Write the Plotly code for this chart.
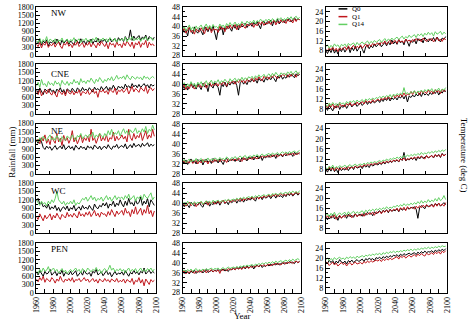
import plotly.graph_objects as go

YEARS = list(range(1960, 2100, 2))
SERIES = ["Q0", "Q1", "Q14"]
REGIONS = ["NW", "CNE", "NE", "WC", "PEN"]

# ---------------- Rainfall (mm) ----------------
nw_rain_q0 = [520, 430, 600, 380, 540, 460, 580, 350, 500, 470,
              560, 420, 610, 480, 390, 570, 450, 520, 600, 410,
              540, 470, 380, 590, 500, 440, 620, 480, 530, 400,
              570, 490, 610, 430, 550, 500, 640, 460, 580, 520,
              610, 470, 560, 650, 500, 590, 620, 480, 660, 560,
              640, 520, 700, 580, 620, 950, 560, 720, 600, 680,
              740, 560, 690, 620, 760, 540, 700, 650, 600, 680]
nw_rain_q1 = [420, 330, 480, 280, 450, 380, 520, 300, 410, 360,
              470, 310, 430, 500, 350, 260, 440, 390, 510, 340,
              420, 290, 460, 380, 520, 330, 410, 470, 300, 440,
              380, 500, 320, 450, 400, 280, 470, 360, 520, 410,
              330, 460, 250, 480, 390, 440, 300, 510, 370, 420,
              290, 480, 360, 540, 410, 330, 500, 260, 470, 390,
              520, 300, 460, 400, 560, 280, 490, 380, 430, 350]
nw_rain_q14 = [560, 480, 640, 450, 590, 520, 700, 470, 610, 540,
               500, 620, 460, 580, 530, 650, 490, 560, 610, 470,
               590, 540, 660, 500, 570, 620, 480, 600, 550, 640,
               520, 590, 470, 630, 560, 680, 510, 600, 570, 650,
               540, 620, 500, 660, 580, 530, 640, 490, 600, 560,
               620, 550, 680, 500, 640, 590, 700, 540, 630, 580,
               660, 520, 640, 590, 700, 550, 620, 680, 560, 610]

cne_rain_q0 = [880, 760, 940, 820, 700, 900, 850, 780, 920, 810,
               860, 740, 900, 830, 950, 790, 880, 720, 910, 850,
               800, 930, 860, 770, 940, 880, 820, 960, 850, 900,
               830, 950, 880, 790, 970, 870, 920, 840, 990, 880,
               910, 1000, 850, 960, 890, 1040, 920, 870, 1010, 940,
               990, 900, 1080, 960, 1020, 930, 1100, 980, 1050, 950,
               1070, 960, 1030, 1100, 990, 1060, 940, 1080, 1010, 1050]
cne_rain_q1 = [820, 700, 880, 650, 790, 850, 720, 900, 760, 680,
               830, 740, 610, 860, 780, 700, 820, 650, 880, 760,
               720, 840, 690, 800, 750, 870, 660, 810, 780, 730,
               850, 700, 780, 900, 740, 820, 600, 860, 790, 880,
               760, 840, 710, 900, 820, 780, 940, 700, 860, 810,
               900, 780, 850, 950, 720, 880, 1000, 800, 920, 860,
               780, 960, 880, 820, 1000, 740, 900, 950, 840, 920]
cne_rain_q14 = [1000, 1150, 960, 1250, 1050, 1100, 980, 1180, 1060, 1120,
                1020, 1200, 1080, 1140, 990, 1220, 1100, 1060, 1180, 1030,
                1150, 1080, 1250, 1120, 1190, 1050, 1280, 1140, 1200, 1100,
                1230, 1150, 1300, 1180, 1100, 1260, 1170, 1320, 1210, 1130,
                1250, 1180, 1300, 1220, 1350, 1200, 1280, 1400, 1260, 1330,
                1290, 1380, 1250, 1420, 1310, 1240, 1370, 1300, 1260, 1350,
                1280, 1330, 1230, 1380, 1290, 1340, 1250, 1310, 1360, 1300]

ne_rain_q0 = [1200, 1100, 1280, 1150, 950, 880, 1000, 920, 980, 850,
              940, 1020, 880, 960, 1000, 900, 1050, 870, 950, 1010,
              900, 980, 850, 1030, 940, 890, 1000, 920, 960, 860,
              1010, 930, 980, 880, 1040, 950, 900, 1000, 870, 960,
              990, 910, 1050, 940, 880, 1000, 960, 1060, 920, 980,
              1020, 950, 1080, 900, 1000, 1050, 940, 1100, 980, 1030,
              1060, 960, 1100, 1000, 1040, 1120, 980, 1070, 1010, 1050]
ne_rain_q1 = [1150, 1250, 1080, 1300, 1180, 1400, 1100, 1250, 1050, 1350,
              1200, 1100, 1450, 1150, 1280, 1020, 1380, 1180, 1300, 1100,
              1250, 1550, 1150, 1300, 1080, 1250, 1400, 1120, 1300, 1200,
              1350, 1150, 1600, 1200, 1300, 1100, 1280, 1450, 1180, 1320,
              1200, 1400, 1150, 1300, 1250, 1500, 1180, 1350, 1220, 1280,
              1400, 1250, 1350, 1150, 1600, 1300, 1200, 1450, 1250, 1380,
              1300, 1500, 1200, 1350, 1550, 1250, 1400, 1300, 1600, 1350]
ne_rain_q14 = [1250, 1150, 1300, 1200, 1350, 1250, 1180, 1320, 1400, 1220,
               1300, 1200, 1380, 1260, 1150, 1340, 1280, 1200, 1360, 1300,
               1250, 1400, 1300, 1200, 1380, 1320, 1450, 1260, 1350, 1400,
               1300, 1420, 1350, 1500, 1280, 1400, 1330, 1460, 1380, 1300,
               1450, 1350, 1550, 1400, 1600, 1380, 1480, 1420, 1550, 1360,
               1500, 1620, 1450, 1550, 1400, 1580, 1480, 1520, 1650, 1450,
               1550, 1480, 1620, 1500, 1700, 1450, 1600, 1530, 1750, 1580]

wc_rain_q0 = [1150, 1250, 1050, 1100, 950, 1000, 900, 1050, 850, 950,
              880, 1000, 820, 930, 780, 900, 950, 850, 980, 800,
              920, 860, 1000, 800, 900, 950, 830, 1000, 880, 940,
              860, 1000, 900, 820, 1050, 930, 880, 1000, 950, 1080,
              980, 1100, 900, 1050, 1000, 1150, 950, 1080, 1000, 1200,
              1050, 950, 1150, 1000, 1250, 1050, 1100, 980, 1200, 1050,
              1100, 1300, 1000, 1150, 1050, 1250, 950, 1200, 1100, 1000]
wc_rain_q1 = [600, 500, 700, 550, 450, 650, 520, 600, 700, 480,
              650, 550, 720, 600, 500, 680, 620, 550, 750, 600,
              680, 580, 720, 650, 550, 780, 620, 700, 600, 750,
              650, 780, 600, 700, 820, 620, 720, 580, 760, 680,
              700, 600, 780, 650, 850, 720, 600, 800, 680, 740,
              820, 650, 900, 720, 780, 600, 850, 700, 950, 680,
              780, 900, 650, 850, 720, 1000, 700, 820, 600, 800]
wc_rain_q14 = [1200, 1100, 1000, 1150, 1050, 1100, 980, 1150, 1050, 1200,
               1100, 1250, 1500, 1200, 1100, 1050, 1150, 1000, 1100, 1050,
               1150, 1050, 1200, 1000, 1100, 1050, 1150, 1250, 1200, 1300,
               1150, 1250, 1350, 1200, 1300, 1150, 1250, 1200, 1300, 1150,
               1250, 1350, 1200, 1300, 1150, 1250, 1350, 1200, 1300, 1250,
               1300, 1200, 1350, 1250, 1400, 1200, 1300, 1350, 1150, 1300,
               1250, 1350, 1200, 1400, 1300, 1250, 1350, 1450, 1200, 1300]

pen_rain_q0 = [750, 650, 800, 700, 600, 780, 680, 720, 850, 640,
               700, 780, 620, 750, 680, 820, 600, 740, 700, 660,
               780, 650, 720, 800, 600, 700, 760, 640, 820, 700,
               680, 740, 600, 780, 720, 850, 650, 700, 760, 620,
               720, 800, 660, 740, 580, 700, 780, 650, 720, 680,
               760, 640, 800, 700, 600, 740, 680, 820, 700, 760,
               650, 780, 720, 900, 680, 750, 820, 700, 780, 720]
pen_rain_q1 = [500, 400, 550, 450, 600, 380, 520, 460, 400, 550,
               480, 350, 500, 420, 600, 450, 380, 500, 430, 520,
               420, 550, 380, 480, 450, 520, 400, 470, 550, 430,
               500, 380, 460, 520, 400, 480, 350, 500, 440, 400,
               520, 420, 480, 380, 500, 450, 400, 520, 380, 450,
               400, 500, 350, 480, 420, 380, 520, 300, 450, 400,
               550, 350, 480, 250, 500, 420, 300, 480, 400, 450]
pen_rain_q14 = [800, 700, 850, 750, 900, 780, 820, 950, 760, 850,
                900, 780, 850, 720, 800, 880, 750, 820, 700, 780,
                850, 760, 820, 900, 780, 850, 720, 880, 800, 760,
                900, 820, 760, 850, 800, 920, 780, 850, 700, 820,
                880, 780, 850, 1000, 820, 900, 760, 850, 800, 880,
                780, 850, 720, 820, 900, 760, 850, 800, 880, 740,
                820, 900, 780, 850, 760, 880, 820, 900, 780, 860]

# ---------------- Temperature, middle column (deg C) ----------------
nw_tx_q0 = [39.0, 37.5, 38.8, 36.0, 39.5, 38.2, 37.0, 39.8, 38.0, 37.2,
            39.2, 38.0, 36.5, 40.0, 38.6, 37.8, 39.5, 38.2, 40.2, 37.5,
            34.5, 39.0, 38.4, 40.2, 36.5, 39.6, 38.8, 40.4, 39.2, 38.0,
            40.5, 39.2, 40.8, 38.5, 41.0, 39.8, 40.2, 41.4, 39.5, 40.8,
            41.2, 40.0, 41.6, 40.6, 42.0, 40.8, 39.0, 41.8, 42.2, 40.6,
            42.0, 41.2, 42.6, 40.2, 42.4, 41.6, 43.0, 41.0, 42.2, 42.8,
            41.5, 43.0, 42.2, 43.4, 41.8, 42.8, 43.6, 42.4, 43.2, 42.8]
nw_tx_q1 = [38.0, 39.2, 37.2, 38.6, 39.8, 37.6, 38.4, 36.8, 39.0, 38.2,
            37.8, 39.4, 38.0, 37.0, 39.6, 38.4, 40.0, 37.4, 39.0, 38.6,
            38.8, 37.5, 40.2, 38.8, 39.4, 37.8, 40.2, 39.0, 40.6, 39.2,
            39.8, 40.8, 38.6, 40.4, 39.4, 41.2, 40.0, 39.2, 41.0, 40.2,
            40.6, 41.4, 39.6, 41.0, 40.2, 41.8, 40.8, 42.0, 40.4, 41.4,
            41.0, 42.2, 40.8, 41.8, 42.6, 40.6, 42.0, 41.4, 42.8, 41.6,
            42.4, 41.2, 43.0, 42.0, 42.6, 41.4, 43.2, 42.0, 43.4, 42.6]
nw_tx_q14 = [38.8, 40.0, 38.2, 39.4, 40.6, 38.6, 39.8, 38.0, 40.2, 39.0,
             39.6, 40.6, 38.8, 39.8, 41.0, 39.2, 40.4, 39.0, 40.8, 39.6,
             40.0, 39.2, 41.0, 39.8, 40.6, 39.4, 41.2, 40.2, 41.6, 40.4,
             40.8, 41.8, 40.2, 41.2, 40.4, 42.0, 41.0, 40.6, 42.2, 41.4,
             42.0, 41.4, 42.6, 41.0, 42.4, 41.8, 43.0, 42.2, 41.6, 42.8,
             42.4, 43.0, 41.8, 43.2, 42.6, 42.0, 43.4, 42.8, 43.6, 42.2,
             43.2, 42.6, 43.8, 43.0, 44.0, 42.8, 43.6, 44.2, 43.0, 43.8]

cne_tx_q0 = [39.6, 38.2, 40.0, 37.6, 39.2, 40.4, 38.6, 39.8, 38.0, 40.2,
             39.0, 37.8, 40.4, 38.8, 39.6, 37.0, 40.2, 39.2, 38.4, 40.6,
             39.4, 38.6, 35.5, 40.2, 39.0, 40.8, 38.8, 40.4, 39.6, 41.0,
             40.0, 41.2, 39.4, 35.5, 40.6, 41.4, 40.0, 41.0, 39.8, 41.6,
             40.8, 42.0, 41.0, 41.8, 40.4, 42.4, 41.4, 42.0, 40.8, 42.6,
             41.6, 42.8, 41.8, 43.0, 42.2, 41.0, 43.2, 42.4, 43.6, 42.0,
             43.0, 42.4, 43.8, 42.8, 44.0, 43.2, 42.6, 44.2, 43.4, 44.0]
cne_tx_q1 = [38.6, 39.8, 37.8, 39.2, 38.2, 40.0, 39.0, 38.0, 39.6, 38.8,
             40.0, 38.6, 39.4, 40.6, 38.4, 39.8, 40.8, 39.0, 40.2, 39.4,
             40.4, 39.2, 40.8, 39.6, 41.0, 40.0, 39.2, 41.2, 40.2, 40.8,
             41.2, 40.0, 41.4, 40.6, 42.0, 40.8, 41.6, 40.4, 42.2, 41.0,
             41.8, 42.4, 41.0, 42.6, 41.6, 43.0, 42.0, 41.4, 43.2, 42.4,
             43.0, 42.0, 43.4, 42.6, 43.8, 42.8, 42.2, 43.6, 43.0, 44.0,
             43.4, 44.2, 42.8, 44.0, 43.2, 44.4, 43.6, 42.8, 44.6, 43.8]
cne_tx_q14 = [39.4, 40.6, 38.8, 40.2, 39.0, 41.0, 39.6, 40.4, 38.6, 40.8,
              39.8, 41.0, 39.2, 40.6, 41.4, 39.6, 40.8, 41.6, 40.0, 41.2,
              40.6, 41.8, 40.2, 41.4, 40.8, 42.0, 41.0, 40.4, 42.2, 41.2,
              41.8, 42.4, 41.0, 42.2, 41.4, 42.8, 41.6, 42.6, 41.8, 43.0,
              42.4, 43.2, 42.0, 43.4, 42.6, 43.8, 42.8, 43.2, 44.0, 42.8,
              43.6, 44.2, 43.0, 44.4, 43.4, 44.8, 43.8, 43.2, 44.6, 44.0,
              44.4, 43.6, 45.0, 44.2, 45.2, 43.8, 44.8, 45.4, 44.0, 45.0]

ne_tx_q0 = [33.2, 32.2, 33.6, 31.8, 33.0, 34.0, 32.4, 33.4, 32.0, 33.8,
            32.8, 33.6, 31.6, 33.2, 34.0, 32.6, 33.4, 32.2, 34.2, 33.0,
            33.6, 32.4, 34.0, 33.0, 31.8, 33.8, 34.2, 32.8, 34.0, 33.4,
            34.2, 33.0, 34.4, 33.6, 32.8, 34.6, 33.8, 34.2, 33.2, 34.8,
            34.0, 35.0, 33.6, 34.6, 35.2, 34.0, 35.4, 33.4, 35.0, 34.4,
            35.4, 34.6, 35.8, 34.8, 35.6, 34.2, 36.0, 35.2, 35.8, 34.8,
            36.0, 35.2, 36.4, 35.6, 36.2, 35.0, 36.6, 35.8, 36.4, 36.0]
ne_tx_q1 = [32.6, 33.4, 32.0, 33.0, 32.4, 33.6, 32.2, 32.8, 33.4, 32.0,
            33.2, 32.4, 33.8, 32.8, 33.2, 32.0, 33.6, 33.0, 32.6, 33.8,
            33.0, 33.8, 32.8, 34.0, 33.2, 33.6, 32.6, 34.2, 33.4, 33.8,
            33.4, 34.0, 33.2, 34.4, 33.8, 33.0, 34.6, 33.6, 34.2, 33.8,
            34.6, 33.8, 34.8, 34.2, 34.0, 35.0, 34.4, 35.2, 34.6, 35.0,
            34.8, 35.4, 34.6, 35.6, 35.0, 35.8, 34.8, 35.4, 36.0, 35.2,
            35.6, 36.2, 35.4, 36.0, 35.8, 36.4, 35.4, 36.2, 35.8, 36.6]
ne_tx_q14 = [33.0, 33.8, 32.6, 33.4, 34.0, 32.8, 33.6, 33.2, 34.2, 33.0,
             33.6, 34.2, 32.8, 33.8, 33.4, 34.4, 33.2, 34.0, 33.6, 34.4,
             34.0, 33.4, 34.6, 33.8, 34.2, 33.6, 34.8, 34.0, 33.6, 34.6,
             34.2, 35.0, 34.0, 34.6, 35.2, 34.4, 34.8, 35.4, 34.2, 35.0,
             35.2, 34.6, 35.6, 35.0, 35.8, 34.8, 35.4, 36.0, 35.2, 35.6,
             35.8, 36.2, 35.4, 36.4, 35.8, 36.0, 36.6, 35.6, 36.4, 36.8,
             36.2, 36.8, 36.0, 37.0, 36.4, 36.8, 37.2, 36.4, 37.0, 37.4]

wc_tx_q0 = [39.8, 38.6, 40.2, 39.0, 38.2, 40.4, 39.4, 38.8, 40.0, 39.2,
            40.4, 39.0, 38.4, 40.2, 39.6, 40.6, 38.8, 40.0, 39.4, 40.8,
            39.6, 40.8, 39.2, 40.4, 41.0, 39.8, 40.6, 39.4, 41.2, 40.2,
            40.8, 41.4, 40.0, 41.2, 40.6, 41.8, 40.4, 41.6, 41.0, 42.0,
            41.2, 42.2, 41.6, 40.8, 42.4, 41.8, 42.6, 41.4, 42.8, 42.0,
            42.4, 43.0, 41.8, 42.8, 43.2, 42.0, 43.4, 42.6, 43.0, 42.2,
            43.4, 42.6, 43.8, 43.0, 44.0, 42.8, 43.6, 44.2, 43.2, 43.8]
wc_tx_q1 = [39.2, 40.0, 38.8, 39.6, 40.4, 39.0, 39.8, 40.2, 38.6, 39.6,
            39.8, 40.6, 39.4, 40.0, 40.8, 39.2, 40.4, 39.8, 40.6, 39.6,
            40.2, 40.8, 39.8, 40.6, 41.2, 40.0, 40.8, 41.4, 40.4, 41.0,
            41.2, 40.6, 41.6, 41.0, 42.0, 40.8, 41.8, 41.2, 42.2, 41.4,
            41.8, 42.4, 41.4, 42.2, 42.8, 41.6, 42.6, 42.0, 43.0, 42.2,
            42.8, 43.2, 42.4, 43.4, 42.8, 43.6, 42.6, 43.2, 43.8, 43.0,
            43.6, 43.0, 44.0, 43.4, 44.2, 43.2, 43.8, 44.4, 43.6, 44.0]
wc_tx_q14 = [39.6, 40.4, 39.2, 40.8, 39.8, 40.2, 39.4, 40.6, 39.8, 40.4,
             40.0, 40.8, 39.6, 40.4, 41.0, 40.2, 40.8, 39.8, 41.2, 40.4,
             40.8, 41.2, 40.4, 41.0, 40.6, 41.4, 40.8, 41.6, 41.0, 41.4,
             41.6, 41.0, 42.0, 41.4, 42.2, 41.6, 42.4, 41.8, 42.2, 42.6,
             42.2, 42.8, 42.0, 43.0, 42.4, 43.2, 42.6, 43.0, 43.4, 42.8,
             43.2, 43.6, 42.8, 43.8, 43.4, 44.0, 43.2, 43.8, 44.2, 43.6,
             44.0, 44.4, 43.6, 44.6, 44.0, 44.8, 44.2, 44.6, 44.0, 45.0]

pen_tx_q0 = [36.6, 35.8, 37.0, 36.2, 35.6, 36.8, 36.0, 37.2, 35.8, 36.6,
             36.4, 37.0, 36.0, 36.8, 37.4, 36.2, 36.8, 37.0, 36.4, 37.2,
             36.8, 37.4, 36.6, 37.0, 37.6, 36.8, 37.2, 36.6, 37.8, 37.2,
             38.0, 37.4, 38.2, 37.6, 38.4, 37.8, 38.6, 37.6, 38.8, 38.0,
             38.4, 39.0, 37.6, 38.8, 39.2, 38.4, 39.4, 38.2, 39.0, 38.6,
             39.4, 38.8, 39.6, 39.0, 39.8, 39.2, 40.0, 39.2, 39.8, 40.2,
             39.6, 40.2, 39.8, 40.6, 40.0, 40.4, 39.8, 40.8, 40.2, 40.6]
pen_tx_q1 = [36.2, 36.8, 35.6, 36.6, 36.0, 37.0, 36.4, 35.8, 36.8, 36.2,
             37.0, 36.2, 36.8, 37.2, 36.0, 37.0, 36.6, 37.4, 36.4, 37.0,
             36.6, 37.2, 35.8, 37.4, 37.0, 37.6, 36.8, 37.8, 37.2, 37.6,
             37.8, 37.2, 38.2, 37.6, 38.0, 37.4, 38.4, 38.0, 38.6, 37.8,
             38.6, 38.2, 38.8, 38.4, 39.0, 38.6, 39.2, 38.8, 39.4, 38.8,
             39.2, 39.6, 38.8, 39.6, 39.2, 40.0, 39.4, 39.8, 39.2, 40.0,
             40.2, 39.6, 40.4, 40.0, 40.6, 39.8, 40.4, 40.8, 40.2, 40.6]
pen_tx_q14 = [36.8, 37.2, 36.4, 37.4, 36.8, 37.6, 36.6, 37.2, 37.8, 36.8,
              37.4, 36.8, 37.6, 37.0, 37.8, 37.2, 37.6, 38.0, 37.2, 37.8,
              37.6, 38.0, 37.2, 37.8, 38.2, 37.4, 38.0, 38.4, 37.8, 38.2,
              38.4, 38.0, 38.6, 38.2, 38.8, 38.4, 39.0, 38.6, 39.2, 38.8,
              39.0, 39.4, 38.8, 39.6, 39.2, 39.8, 39.4, 40.0, 39.6, 40.2,
              39.8, 40.4, 39.8, 40.6, 40.0, 40.8, 40.2, 40.6, 41.0, 40.4,
              40.8, 41.2, 40.6, 41.4, 40.8, 41.6, 41.0, 41.4, 41.8, 41.2]

# ---------------- Temperature, right column (deg C) ----------------
nw_tn_q0 = [8.0, 6.8, 8.6, 7.2, 9.0, 7.0, 8.4, 6.6, 8.8, 7.6,
            9.2, 7.4, 8.6, 9.6, 7.2, 9.4, 8.0, 9.8, 7.8, 9.0,
            10.0, 8.6, 7.0, 9.6, 10.4, 8.8, 10.0, 9.2, 10.8, 9.6,
            10.2, 11.2, 9.6, 10.8, 11.4, 10.0, 11.6, 10.4, 12.4, 10.8,
            11.8, 10.6, 12.6, 11.2, 12.0, 10.4, 12.8, 11.6, 9.8, 12.2,
            11.4, 12.6, 10.8, 13.0, 12.0, 12.8, 11.2, 13.4, 12.2, 11.6,
            13.0, 12.0, 13.4, 11.8, 13.6, 12.4, 11.6, 13.2, 12.6, 13.8]
nw_tn_q1 = [8.6, 7.8, 9.2, 8.2, 9.6, 8.0, 9.0, 7.6, 9.4, 8.4,
            8.8, 9.6, 8.2, 10.0, 8.6, 9.4, 10.2, 8.8, 9.8, 9.2,
            10.4, 9.0, 10.0, 10.8, 9.4, 10.6, 9.8, 11.0, 10.2, 10.8,
            11.2, 10.2, 11.6, 10.8, 12.0, 10.6, 11.4, 12.4, 10.8, 11.8,
            12.2, 11.0, 12.6, 11.6, 12.0, 11.2, 12.8, 11.8, 12.4, 11.4,
            12.6, 11.8, 13.0, 12.2, 12.8, 11.6, 13.2, 12.4, 11.8, 12.8,
            12.2, 13.0, 11.6, 12.6, 13.4, 12.0, 12.8, 11.8, 13.2, 12.4]
nw_tn_q14 = [9.6, 10.4, 9.0, 10.2, 9.4, 10.8, 9.8, 10.4, 9.2, 10.6,
             10.0, 10.8, 9.6, 11.0, 10.2, 10.6, 11.2, 10.0, 11.4, 10.4,
             11.0, 11.6, 10.6, 11.4, 12.0, 10.8, 11.8, 11.2, 12.2, 11.4,
             12.0, 12.6, 11.4, 12.4, 13.0, 11.8, 12.8, 12.2, 13.2, 12.4,
             13.0, 13.6, 12.6, 13.4, 14.0, 12.8, 13.8, 13.2, 14.4, 13.4,
             14.0, 14.6, 13.4, 14.8, 14.2, 15.0, 13.8, 15.2, 14.4, 15.6,
             14.6, 15.4, 14.0, 15.8, 14.8, 15.2, 16.0, 14.6, 15.6, 15.0]

cne_tn_q0 = [8.6, 7.4, 9.4, 8.0, 7.2, 9.0, 8.4, 10.0, 7.8, 9.2,
             8.6, 9.8, 8.2, 9.4, 10.2, 8.8, 9.6, 10.4, 9.0, 10.0,
             10.6, 9.4, 10.2, 11.0, 9.8, 10.8, 10.2, 11.2, 10.4, 11.0,
             11.6, 10.6, 11.8, 11.0, 12.2, 11.4, 12.6, 11.2, 12.4, 11.8,
             12.8, 11.6, 13.0, 12.4, 13.4, 12.0, 13.6, 10.8, 13.2, 12.6,
             13.6, 12.8, 14.0, 13.2, 14.4, 13.0, 14.6, 13.6, 14.2, 13.4,
             14.6, 13.8, 15.0, 14.2, 15.4, 13.6, 15.0, 14.4, 15.6, 14.8]
cne_tn_q1 = [9.2, 8.4, 9.8, 8.8, 10.0, 8.2, 9.4, 8.6, 10.2, 9.0,
             9.6, 8.8, 10.2, 9.4, 10.6, 9.2, 10.0, 9.6, 10.8, 9.8,
             10.2, 11.0, 10.0, 11.4, 10.6, 11.2, 10.4, 11.8, 10.8, 11.4,
             12.0, 11.2, 12.4, 11.6, 12.8, 11.8, 13.2, 12.0, 12.6, 13.4,
             12.4, 13.6, 12.8, 14.0, 13.0, 14.4, 13.2, 14.0, 13.6, 15.0,
             13.8, 15.2, 14.2, 14.8, 13.6, 15.4, 14.4, 15.0, 14.2, 15.6,
             14.6, 15.2, 14.0, 15.8, 14.8, 15.4, 14.2, 16.0, 15.0, 15.6]
cne_tn_q14 = [9.8, 9.0, 10.4, 9.4, 10.6, 9.6, 10.2, 9.2, 10.8, 10.0,
              10.4, 9.8, 11.0, 10.2, 11.2, 10.6, 11.4, 10.4, 11.6, 10.8,
              11.2, 11.8, 10.8, 12.0, 11.4, 12.2, 11.6, 12.4, 11.8, 12.6,
              12.2, 13.0, 12.4, 13.2, 12.6, 13.4, 12.8, 13.8, 12.6, 14.0,
              13.2, 14.2, 13.6, 14.4, 13.8, 16.6, 14.0, 14.6, 13.8, 15.0,
              14.4, 15.4, 14.0, 15.2, 14.8, 15.6, 14.6, 15.8, 15.0, 16.0,
              15.2, 16.2, 14.8, 15.8, 15.4, 16.4, 15.0, 16.0, 15.6, 16.6]

ne_tn_q0 = [7.8, 6.8, 8.4, 7.2, 8.8, 7.0, 8.0, 6.6, 8.6, 7.4,
            8.2, 7.6, 8.8, 7.4, 8.6, 9.0, 7.8, 9.2, 8.4, 8.8,
            9.0, 8.2, 9.6, 8.8, 9.4, 8.6, 10.0, 9.2, 9.8, 10.2,
            9.6, 10.4, 9.8, 10.8, 10.0, 11.0, 10.4, 11.2, 10.6, 11.4,
            11.0, 11.6, 10.8, 12.2, 11.4, 14.6, 11.2, 12.0, 11.6, 12.4,
            11.8, 12.6, 11.4, 12.8, 12.0, 13.0, 12.2, 12.6, 13.2, 12.4,
            12.8, 13.4, 12.4, 13.6, 13.0, 13.8, 12.6, 14.2, 13.2, 14.0]
ne_tn_q1 = [8.2, 7.6, 8.8, 7.8, 8.4, 7.4, 8.6, 8.0, 7.6, 8.8,
            8.0, 8.6, 7.8, 9.0, 8.2, 8.8, 8.4, 9.2, 8.6, 9.0,
            9.4, 8.8, 9.8, 9.2, 10.0, 9.4, 10.2, 9.6, 10.4, 9.8,
            10.2, 10.8, 10.0, 11.0, 10.4, 11.2, 10.6, 11.4, 10.8, 11.6,
            11.2, 11.8, 11.0, 12.0, 11.6, 12.4, 11.4, 12.2, 11.8, 12.6,
            12.0, 12.8, 12.2, 13.0, 12.4, 13.2, 12.6, 12.0, 13.4, 12.6,
            12.8, 13.4, 12.6, 13.8, 13.0, 13.6, 12.8, 14.0, 13.2, 13.8]
ne_tn_q14 = [8.6, 8.0, 9.2, 8.4, 9.6, 8.2, 9.0, 8.6, 9.4, 8.8,
             9.0, 9.6, 8.8, 9.4, 9.8, 9.0, 9.6, 10.0, 9.2, 9.8,
             10.0, 9.6, 10.4, 9.8, 10.6, 10.2, 10.8, 10.4, 11.0, 10.6,
             11.0, 11.4, 10.8, 11.6, 11.2, 12.0, 11.4, 12.2, 11.8, 12.4,
             12.0, 12.8, 12.2, 13.0, 12.4, 13.4, 12.8, 13.6, 13.0, 13.8,
             13.2, 14.0, 13.4, 14.2, 13.6, 14.6, 13.8, 14.4, 14.0, 14.8,
             14.2, 15.0, 14.4, 15.2, 14.6, 15.4, 14.8, 15.6, 15.0, 15.8]

wc_tn_q0 = [12.6, 11.4, 13.2, 12.0, 13.6, 11.8, 12.8, 11.2, 13.0, 12.2,
            12.8, 13.4, 12.0, 13.6, 12.6, 13.2, 12.4, 13.8, 12.8, 13.4,
            13.6, 12.8, 14.0, 13.2, 14.4, 13.6, 14.2, 13.0, 14.6, 13.8,
            14.4, 15.0, 14.0, 15.2, 14.6, 15.4, 14.2, 15.6, 14.8, 15.2,
            15.0, 15.8, 14.6, 16.0, 15.2, 15.8, 15.4, 16.2, 15.6, 16.4,
            16.0, 16.6, 15.6, 12.0, 16.2, 17.0, 16.4, 15.8, 17.2, 16.6,
            17.0, 17.6, 16.6, 17.8, 17.2, 18.0, 16.8, 17.6, 18.2, 17.4]
wc_tn_q1 = [12.2, 13.0, 11.8, 12.8, 12.4, 13.4, 11.6, 12.6, 13.2, 12.0,
            13.0, 12.4, 13.4, 12.8, 13.6, 12.2, 13.2, 13.8, 12.6, 13.4,
            13.0, 13.8, 12.8, 14.0, 13.4, 14.2, 13.6, 14.4, 13.2, 14.6,
            14.0, 14.8, 13.8, 15.0, 14.4, 15.2, 14.6, 15.4, 14.8, 15.6,
            15.2, 16.0, 14.8, 16.2, 15.4, 16.4, 15.0, 16.6, 15.8, 16.2,
            16.4, 15.6, 16.8, 16.0, 17.0, 16.2, 17.2, 16.4, 17.4, 16.8,
            16.6, 17.4, 16.4, 17.8, 16.8, 18.0, 17.0, 17.6, 16.8, 18.2]
wc_tn_q14 = [13.0, 13.8, 12.6, 14.0, 13.2, 14.4, 12.8, 13.6, 14.2, 13.4,
             13.8, 14.4, 13.2, 14.6, 13.6, 14.2, 14.8, 13.8, 14.6, 14.0,
             14.4, 15.0, 14.0, 15.2, 14.6, 15.4, 14.8, 15.6, 15.0, 15.8,
             15.2, 16.0, 15.4, 16.2, 15.6, 16.6, 15.8, 16.4, 16.0, 16.8,
             16.4, 17.2, 16.6, 17.4, 16.8, 17.8, 17.0, 17.6, 17.2, 18.0,
             17.4, 18.2, 17.6, 18.6, 17.8, 19.0, 18.0, 18.8, 18.2, 19.4,
             18.4, 19.2, 18.6, 19.8, 18.8, 20.2, 19.0, 19.6, 21.0, 19.4]

pen_tn_q0 = [18.6, 17.8, 19.2, 18.2, 19.0, 17.6, 18.8, 18.0, 19.4, 18.4,
             18.0, 18.8, 17.6, 19.0, 18.4, 19.2, 18.2, 18.8, 19.4, 18.6,
             19.0, 19.6, 18.6, 19.8, 19.2, 20.0, 19.4, 19.8, 19.0, 20.2,
             19.8, 20.4, 19.6, 20.6, 20.0, 20.8, 20.2, 21.0, 20.4, 21.2,
             20.8, 21.4, 20.6, 21.6, 21.0, 21.8, 21.2, 21.6, 22.0, 21.4,
             21.8, 22.2, 21.4, 22.4, 21.8, 22.6, 22.0, 22.8, 22.2, 22.6,
             22.4, 23.0, 22.2, 23.2, 22.6, 23.4, 22.8, 23.6, 23.0, 23.8]
pen_tn_q1 = [17.6, 18.2, 17.0, 17.8, 18.4, 17.2, 18.0, 16.8, 17.6, 18.2,
             17.4, 18.0, 16.8, 17.8, 18.2, 17.2, 17.8, 18.4, 17.6, 18.0,
             18.2, 17.6, 18.6, 18.0, 18.8, 18.2, 19.0, 18.4, 18.8, 19.2,
             18.8, 19.4, 18.6, 19.6, 19.0, 19.8, 19.2, 20.0, 19.4, 19.8,
             20.0, 20.6, 19.6, 20.8, 20.2, 21.0, 20.0, 20.8, 21.2, 20.4,
             20.8, 21.4, 20.6, 21.6, 21.0, 21.8, 21.2, 20.8, 22.0, 21.4,
             21.6, 22.2, 21.4, 22.4, 21.8, 22.6, 21.6, 22.8, 22.2, 23.0]
pen_tn_q14 = [19.4, 20.0, 19.0, 19.8, 19.2, 20.2, 19.4, 19.8, 20.4, 19.6,
              20.0, 19.4, 20.4, 19.8, 20.6, 20.0, 20.4, 19.8, 20.8, 20.2,
              20.6, 21.0, 20.4, 21.2, 20.8, 21.4, 21.0, 21.6, 21.2, 21.8,
              21.4, 22.0, 21.2, 22.2, 21.6, 22.4, 21.8, 22.6, 22.2, 22.8,
              22.2, 22.8, 22.4, 23.0, 22.6, 23.2, 22.8, 23.4, 23.0, 23.6,
              23.0, 23.6, 23.2, 23.8, 23.4, 24.0, 23.6, 24.2, 23.8, 24.4,
              23.8, 24.4, 24.0, 24.6, 24.2, 24.8, 24.4, 25.0, 24.6, 24.8]

RAIN = {"NW": (nw_rain_q0, nw_rain_q1, nw_rain_q14),
        "CNE": (cne_rain_q0, cne_rain_q1, cne_rain_q14),
        "NE": (ne_rain_q0, ne_rain_q1, ne_rain_q14),
        "WC": (wc_rain_q0, wc_rain_q1, wc_rain_q14),
        "PEN": (pen_rain_q0, pen_rain_q1, pen_rain_q14)}
TX = {"NW": (nw_tx_q0, nw_tx_q1, nw_tx_q14),
      "CNE": (cne_tx_q0, cne_tx_q1, cne_tx_q14),
      "NE": (ne_tx_q0, ne_tx_q1, ne_tx_q14),
      "WC": (wc_tx_q0, wc_tx_q1, wc_tx_q14),
      "PEN": (pen_tx_q0, pen_tx_q1, pen_tx_q14)}
TN = {"NW": (nw_tn_q0, nw_tn_q1, nw_tn_q14),
      "CNE": (cne_tn_q0, cne_tn_q1, cne_tn_q14),
      "NE": (ne_tn_q0, ne_tn_q1, ne_tn_q14),
      "WC": (wc_tn_q0, wc_tn_q1, wc_tn_q14),
      "PEN": (pen_tn_q0, pen_tn_q1, pen_tn_q14)}

RAIN_TICKS = [0, 300, 600, 900, 1200, 1500, 1800]
TX_TICKS = [28, 32, 36, 40, 44, 48]
TN_TICKS = [8, 12, 16, 20, 24]
YEAR_TICKS = list(range(1960, 2101, 20))

# ---------------- styling ----------------
W, H = 474, 326
COLORS = ["#000000", "#c0161c", "#62cf62"]
FONT = "Liberation Serif, Times New Roman, serif"

COL_PX = [(33, 155), (182, 303), (328, 452)]
ROW_PX = [(3, 53), (62, 113), (123, 175), (184, 236), (246, 297)]

fig = go.Figure()
layout = dict(width=W, height=H, margin=dict(l=0, r=0, t=0, b=0),
              paper_bgcolor="white", plot_bgcolor="white",
              showlegend=False, font=dict(family=FONT, size=8, color="black"))

col_data = [RAIN, TX, TN]
col_ranges = [[-3, 1803], [27.95, 48.05], [6, 26]]
col_ticks = [RAIN_TICKS, TX_TICKS, TN_TICKS]
col_minor = [150, 2, 2]

for r, reg in enumerate(REGIONS):
    for c in range(3):
        k = r * 3 + c + 1
        xs = "" if k == 1 else str(k)
        for s in range(3):
            fig.add_trace(go.Scatter(
                x=YEARS, y=col_data[c][reg][s], mode="lines",
                line=dict(color=COLORS[s], width=1),
                xaxis="x" + xs, yaxis="y" + xs, name=SERIES[s],
                hoverinfo="skip"))
        xd = [COL_PX[c][0] / W, COL_PX[c][1] / W]
        yd = [1 - ROW_PX[r][1] / H, 1 - ROW_PX[r][0] / H]
        xa = dict(domain=xd, anchor="y" + xs, range=[1960, 2100],
                  showline=True, mirror=True, linecolor="black", linewidth=1,
                  showgrid=False, zeroline=False, ticks="inside",
                  tickcolor="black", tickwidth=1)
        if r < 4:
            xa.update(showticklabels=False, tick0=2000, dtick=50, ticklen=5,
                      minor=dict(tick0=2000, dtick=25, ticklen=3,
                                 ticks="inside", tickcolor="black",
                                 showgrid=False))
        else:
            xa.update(showticklabels=True, tickvals=YEAR_TICKS,
                      ticktext=[str(v) for v in YEAR_TICKS], tickangle=-90,
                      ticklen=4, tickfont=dict(family=FONT, size=8),
                      minor=dict(tick0=1960, dtick=10, ticklen=4,
                                 ticks="inside", tickcolor="black",
                                 showgrid=False))
        ya = dict(domain=yd, anchor="x" + xs, range=col_ranges[c],
                  showline=True, mirror=True, linecolor="black", linewidth=1,
                  showgrid=False, zeroline=False, ticks="inside", ticklen=4,
                  tickcolor="black", tickwidth=1, tickvals=col_ticks[c],
                  ticktext=[str(v) for v in col_ticks[c]],
                  tickfont=dict(family=FONT, size=8),
                  minor=dict(dtick=col_minor[c], tick0=col_ticks[c][0],
                             ticklen=2, ticks="inside", tickcolor="black",
                             showgrid=False))
        layout["xaxis" + xs] = xa
        layout["yaxis" + xs] = ya

annotations = []
label_y = [9, 72, 131, 192, 252]
for r, reg in enumerate(REGIONS):
    annotations.append(dict(x=46 / W, y=1 - label_y[r] / H, xref="paper",
                            yref="paper", text=reg, showarrow=False,
                            xanchor="left", yanchor="middle",
                            font=dict(family=FONT, size=9)))

annotations.append(dict(x=243 / W, y=1 - 321 / H, xref="paper", yref="paper",
                        text="Year", showarrow=False, xanchor="center",
                        yanchor="middle", font=dict(family=FONT, size=9)))
annotations.append(dict(x=8 / W, y=1 - 152 / H, xref="paper", yref="paper",
                        text="Rainfall (mm)", showarrow=False, textangle=-90,
                        xanchor="center", yanchor="middle",
                        font=dict(family=FONT, size=9)))
annotations.append(dict(x=469 / W, y=1 - 155 / H, xref="paper", yref="paper",
                        text="Temperature (deg C)", showarrow=False,
                        textangle=90, xanchor="center", yanchor="middle",
                        font=dict(family=FONT, size=9)))

shapes = []
leg_y = [5, 13, 21]
for s in range(3):
    yy = 1 - leg_y[s] / H
    shapes.append(dict(type="line", xref="paper", yref="paper",
                       x0=341 / W, x1=350 / W, y0=yy, y1=yy,
                       line=dict(color=COLORS[s], width=1.5)))
    annotations.append(dict(x=354 / W, y=yy, xref="paper", yref="paper",
                            text=SERIES[s], showarrow=False, xanchor="left",
                            yanchor="middle", borderpad=0,
                            font=dict(family=FONT, size=7, color="black")))

layout["annotations"] = annotations
layout["shapes"] = shapes
fig.update_layout(**layout)
fig.write_html("out.html")
